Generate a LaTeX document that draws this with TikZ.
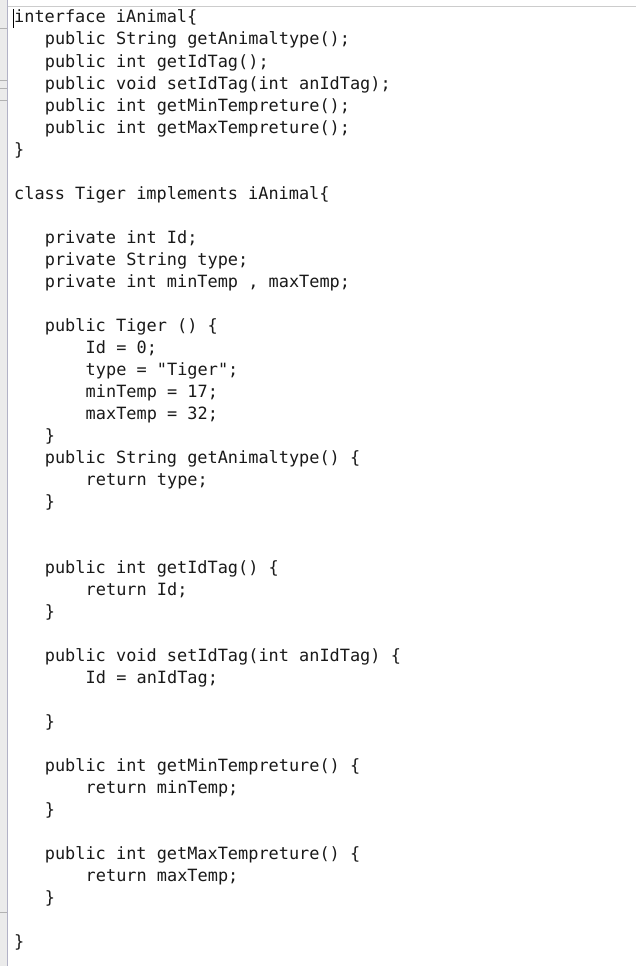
\documentclass[tikz,border=0pt]{standalone}
\usepackage{fontspec}
\setmonofont{DejaVu Sans Mono}
\begin{document}
\begin{tikzpicture}[x=1pt,y=-1pt,
  code/.style={anchor=base west,inner sep=0pt,font=\ttfamily\fontsize{16.9}{20}\selectfont,text=black!90}]
\useasboundingbox (0,0) rectangle (636,966);
\fill[black!8] (0,0) rectangle (7,966);
\draw[black!30] (0,28) -- (7,28) (0,80) -- (7,80) (0,88) -- (7,88) (0,100) -- (7,100);
\draw[black!30] (0,912) -- (7,912);
\draw[blue!25!black!30,line width=1.2pt] (7.5,0) -- (7.5,966);
\draw[black!20] (8,6) -- (636,6);
\draw[black,line width=0.8pt] (13.5,9) -- (13.5,28);
\newcommand{\cl}[3]{\node[code] (l#1) at ({14+#2*10.22},{23+#1*22}) {#3};}
\cl{0}{0}{interface iAnimal\{}
\cl{1}{3}{public String getAnimaltype();}
\cl{2}{3}{public int getIdTag();}
\cl{3}{3}{public void setIdTag(int anIdTag);}
\cl{4}{3}{public int getMinTempreture();}
\cl{5}{3}{public int getMaxTempreture();}
\cl{6}{0}{\}}
\cl{8}{0}{class Tiger implements iAnimal\{}
\cl{10}{3}{private int Id;}
\cl{11}{3}{private String type;}
\cl{12}{3}{private int minTemp , maxTemp;}
\cl{14}{3}{public Tiger () \{}
\cl{15}{7}{Id = 0;}
\cl{16}{7}{type = "Tiger";}
\cl{17}{7}{minTemp = 17;}
\cl{18}{7}{maxTemp = 32;}
\cl{19}{3}{\}}
\cl{20}{3}{public String getAnimaltype() \{}
\cl{21}{7}{return type;}
\cl{22}{3}{\}}
\cl{25}{3}{public int getIdTag() \{}
\cl{26}{7}{return Id;}
\cl{27}{3}{\}}
\cl{29}{3}{public void setIdTag(int anIdTag) \{}
\cl{30}{7}{Id = anIdTag;}
\cl{32}{3}{\}}
\cl{34}{3}{public int getMinTempreture() \{}
\cl{35}{7}{return minTemp;}
\cl{36}{3}{\}}
\cl{38}{3}{public int getMaxTempreture() \{}
\cl{39}{7}{return maxTemp;}
\cl{40}{3}{\}}
\cl{42}{0}{\}}
\end{tikzpicture}
\end{document}
